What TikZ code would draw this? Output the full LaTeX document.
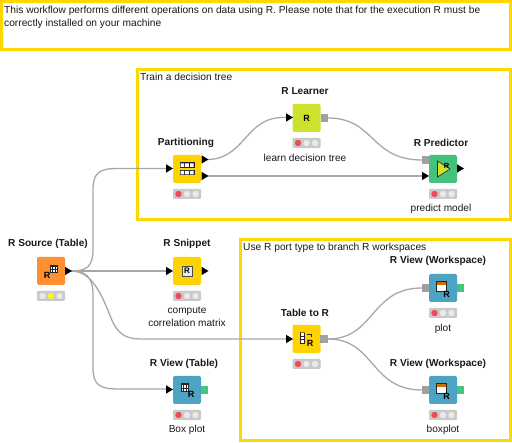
\documentclass[tikz,border=0pt]{standalone}
\usepackage{fontspec}
\setmainfont{Liberation Sans}
\usetikzlibrary{arrows.meta}
\definecolor{annoY}{HTML}{FFD800}
\definecolor{cSource}{HTML}{FF8F33}
\definecolor{cManip}{HTML}{FFD300}
\definecolor{cLearn}{HTML}{CCE22E}
\definecolor{cPred}{HTML}{42C27B}
\definecolor{cView}{HTML}{4DA3C4}
\definecolor{cPort}{HTML}{A0A0A0}
\definecolor{cGreen}{HTML}{41C87E}
\definecolor{cWire}{HTML}{A8A8A8}
\definecolor{cTraffic}{HTML}{C9C9C9}
\definecolor{cDot}{HTML}{EAEAEA}
\definecolor{cRed}{HTML}{EE4B55}
\definecolor{cYel}{HTML}{FFF21E}
\tikzset{
  x=1pt,y=-1pt,
  anno/.style={draw=annoY,line width=3pt,fill=white},
  annotext/.style={anchor=north west,inner sep=0pt,font=\fontsize{10.2}{13.2}\selectfont,align=left,text=black!90},
  kbox/.style={minimum size=28pt,inner sep=0pt,rounded corners=1.5pt,draw=none},
  ktitle/.style={font=\fontsize{10.1}{12}\selectfont\bfseries,inner sep=0pt,text=black!90},
  kcap/.style={font=\fontsize{10.1}{13.2}\selectfont,inner sep=0pt,align=center,text=black!90},
  ktraffic/.style={fill=cTraffic,minimum width=28pt,minimum height=10pt,inner sep=0pt,rounded corners=1pt},
  dotoff/.style={fill=cDot,draw=none},
  tri/.style={fill=black,draw=none},
  sq/.style={fill=cPort,minimum size=7.5pt,inner sep=0pt,draw=none},
  gr/.style={fill=cGreen,minimum size=7.5pt,inner sep=0pt,draw=none},
  wire/.style={draw=cWire,line width=1.3pt},
  ir/.style={font=\fontsize{9}{9}\selectfont\bfseries,inner sep=0pt,text=black},
  itab/.style={fill=white,draw=black!85,line width=.7pt},
  iln/.style={draw=black!85,line width=.6pt},
}
% traffic light: #1 node name, #2 first lamp, #3 middle lamp
\newcommand{\tlight}[3]{%
  \node[ktraffic] (#1t) at ([yshift=-25pt]#1.center) {};
  \fill[#2] ([xshift=-8.5pt]#1t.center) circle (3.2pt);
  \fill[#3] (#1t.center) circle (3.2pt);
  \fill[dotoff] ([xshift=8.5pt]#1t.center) circle (3.2pt);
}
% triangle port at x,y
\newcommand{\tport}[3]{\coordinate (#1) at (#2,#3);
  \fill[tri] (#2-3.5,#3-4.2) -- (#2+3.5,#3) -- (#2-3.5,#3+4.2) -- cycle;}
\begin{document}
\begin{tikzpicture}
\useasboundingbox (0,0) rectangle (512,443);
\fill[white] (0,0) rectangle (512,443);
% annotations
\draw[anno] (1.5,1.5) rectangle (510.5,50);
\node[annotext] (a1) at (4,5.5) {This workflow performs different operations on data using R. Please note that for the execution R must be\\correctly installed on your machine};
\draw[anno] (137.5,70) rectangle (510.5,219.5);
\node[annotext] (a2) at (140,72.6) {Train a decision tree};
\draw[anno] (240.5,240) rectangle (510.5,441);
\node[annotext] (a3) at (243,243) {Use R port type to branch R workspaces};
% ports coordinates for wires
\coordinate (sOut) at (71,271);
\coordinate (pIn) at (168,168.5);
\coordinate (pOut1) at (207,159.5);
\coordinate (pOut2) at (207,176);
\coordinate (lIn) at (287,117.5);
\coordinate (lOut) at (328,118);
\coordinate (prM) at (422,160);
\coordinate (prD) at (424,176);
\coordinate (snIn) at (168,271);
\coordinate (vtIn) at (168,389);
\coordinate (trIn) at (288,339);
\coordinate (trOut) at (328,339);
\coordinate (w1In) at (422,288);
\coordinate (w2In) at (422,390);
% connectors
\draw[wire] (sOut) .. controls (85,271) and (93,268) .. (93,250) -- (93,190) .. controls (93,172) and (100,168.5) .. (118,168.5) -- (pIn);
\draw[wire] (sOut) -- (snIn);
\draw[wire] (sOut) .. controls (92,271) and (102,295) .. (111,318) .. controls (117,333) and (125,339) .. (140,339) -- (trIn);
\draw[wire] (sOut) .. controls (85,271) and (93,276) .. (93,295) -- (93,368) .. controls (93,385) and (100,389) .. (118,389) -- (vtIn);
\draw[wire] (pOut1) .. controls (245,159.5) and (245,117.5) .. (283,117.5) -- (lIn);
\draw[wire] (pOut2) -- (prD);
\draw[wire] (lOut) .. controls (375,118) and (370,160) .. (422,160) -- (prM);
\draw[wire] (trOut) .. controls (375,339) and (370,288) .. (w1In);
\draw[wire] (trOut) .. controls (375,339) and (370,390) .. (w2In);
% nodes
\node[kbox,fill=cSource] (src) at (51,271) {};
\node[kbox,fill=cManip] (part) at (187,169) {};
\node[kbox,fill=cLearn] (lrn) at (306.5,118) {};
\node[kbox,fill=cPred] (pred) at (443,169) {};
\node[kbox,fill=cManip] (snip) at (187,271) {};
\node[kbox,fill=cView] (vt) at (187,390) {};
\node[kbox,fill=cManip] (t2r) at (306.5,339) {};
\node[kbox,fill=cView] (w1) at (443,288) {};
\node[kbox,fill=cView] (w2) at (443,390) {};
% titles
\node[ktitle] (tsrc) at (48,244) {R Source (Table)};
\node[ktitle] (tpart) at (186,142.5) {Partitioning};
\node[ktitle] (tlrn) at (305,91) {R Learner};
\node[ktitle] (tpred) at (441,142.5) {R Predictor};
\node[ktitle] (tsnip) at (187,244) {R Snippet};
\node[ktitle] (tvt) at (184,363.5) {R View (Table)};
\node[ktitle] (tt2r) at (305,312.5) {Table to R};
\node[ktitle] (tw1) at (438,261) {R View (Workspace)};
\node[ktitle] (tw2) at (438,363.5) {R View (Workspace)};
% captions
\node[kcap] (clrn) at (305,158) {learn decision tree};
\node[kcap] (cpred) at (441,209) {predict model};
\node[kcap] (csnip) at (187,317) {compute\\correlation matrix};
\node[kcap] (cvt) at (187,430) {Box plot};
\node[kcap] (cw1) at (443,328.5) {plot};
\node[kcap] (cw2) at (443,430) {boxplot};
% traffic lights
\tlight{src}{cDot}{cYel}
\tlight{part}{cRed}{cDot}
\tlight{lrn}{cRed}{cDot}
\tlight{pred}{cRed}{cDot}
\tlight{snip}{cRed}{cDot}
\tlight{vt}{cRed}{cDot}
\tlight{t2r}{cRed}{cDot}
\tlight{w1}{cRed}{cDot}
\tlight{w2}{cRed}{cDot}
% ports
\tport{a}{68.5}{271}
\tport{b}{169.5}{168.5}
\tport{c}{205}{159.5}
\tport{d}{205}{176}
\tport{e}{289.5}{117.5}
\tport{f}{425.5}{176}
\tport{g}{460.5}{168.5}
\tport{h}{169.5}{271}
\tport{i}{205}{271}
\tport{j}{169.5}{389.5}
\tport{k}{289.5}{339}
\node[sq] (lp) at (324.5,118) {};
\node[sq] (pm) at (425.5,160) {};
\node[sq] (tp) at (324,339) {};
\node[sq] (w1p) at (425.5,288) {};
\node[sq] (w2p) at (425.5,390) {};
\node[gr] (vtg) at (204.5,390) {};
\node[gr] (w1g) at (460.5,288) {};
\node[gr] (w2g) at (460.5,390) {};
% icons
% source
\draw[itab] (50,265) rectangle (57.5,272);
\fill[black!85] (50,265) rectangle (57.5,267);
\draw[iln] (52.5,267) -- (52.5,272) (55,267) -- (55,272) (50,269.5) -- (57.5,269.5);
\node[ir] (isrc) at (47,275.5) {R};
% partitioning
\fill[black!85] (179.5,162.5) rectangle (194.5,168);
\fill[black!85] (179.5,170) rectangle (194.5,175.5);
\fill[white] (180.5,163.5) rectangle (184,167) (185.2,163.5) rectangle (188.8,167) (190,163.5) rectangle (193.5,167);
\fill[white] (180.5,171) rectangle (184,174.5) (185.2,171) rectangle (188.8,174.5) (190,171) rectangle (193.5,174.5);
% learner
\node[ir] (ilrn) at (306.5,118) {R};
% predictor
\fill[cLearn,draw=black!85,line width=.6pt] (437.5,161) -- (450,169) -- (437.5,177) -- cycle;
\node[ir,font=\fontsize{7.5}{8}\selectfont\bfseries] (ipred) at (446.5,166) {R};
% snippet
\draw[black!70,fill=cDot,line width=.8pt] (182,266) rectangle (192,276);
\node[ir,font=\fontsize{8}{8}\selectfont\bfseries] (isnip) at (187,271) {R};
% view table
\draw[itab] (181,383.5) rectangle (188.5,391);
\fill[black!85] (181,383.5) rectangle (188.5,385.5);
\draw[iln] (183.5,385.5) -- (183.5,391) (186,385.5) -- (186,391) (181,388) -- (188.5,388);
\node[ir] (ivt) at (191,394) {R};
% table to R
\draw[iln,fill=white] (300.5,332) rectangle (304.5,343);
\fill[orange!80!black] (300.5,332) rectangle (304.5,333.5);
\draw[iln] (300.5,336) -- (304.5,336) (300.5,339.5) -- (304.5,339.5);
\draw[iln] (307,334) -- (311,334) -- (311,337);
\node[ir] (it2r) at (310,343) {R};
% view workspace
\foreach \n/\y in {w1/288,w2/390}{
  \draw[itab] (436.5,\y-7) rectangle (446.5,\y+3.5);
  \fill[black!85] (436.5,\y-7) rectangle (446.5,\y-2.5);
  \fill[orange!85!black] (437.2,\y-6.3) rectangle (445.8,\y-3.2);
  \node[ir] at (446.5,\y+6) {R};
}
\end{tikzpicture}
\end{document}
